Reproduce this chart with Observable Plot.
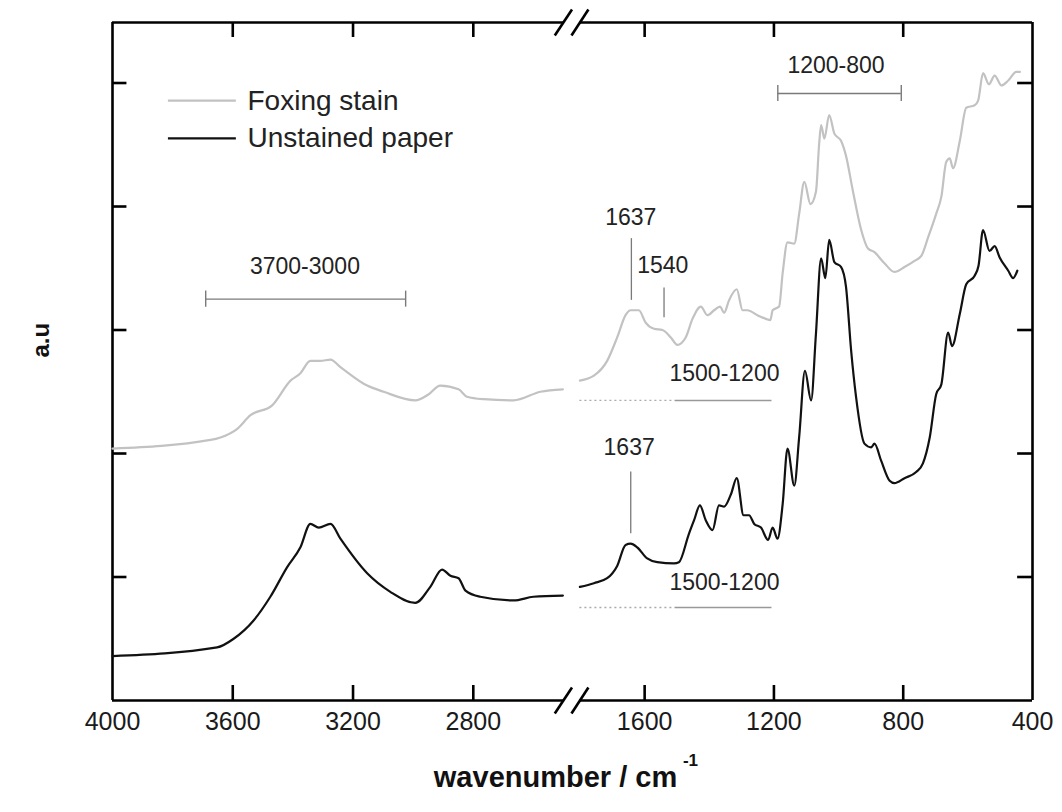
<!DOCTYPE html>
<html>
<head>
<meta charset="utf-8">
<script src="https://cdn.jsdelivr.net/npm/d3@7"></script>
<script src="https://cdn.jsdelivr.net/npm/@observablehq/plot@0.6"></script>
<style>
  html, body { margin: 0; padding: 0; background: #fff; }
</style>
</head>
<body>
<div id="chart"></div>
<script>
// ---------- data (wavenumber in cm-1, absorbance in arbitrary units) ----------
const xTicks = [4000, 3600, 3200, 2800, 1600, 1200, 800, 400];
const yTicks = [1, 2, 3, 4, 5];
const seriesNames = ["Foxing stain", "Unstained paper"];

const foxingHighWn  = [4000, 3674, 3641, 3585, 3541, 3469, 3408, 3375, 3342, 3309, 3275, 3242, 3153, 3098, 2993, 2948, 2910, 2849, 2821, 2766, 2666, 2577, 2502];
const foxingHighAbs = [2.04, 2.11, 2.13, 2.20, 2.31, 2.39, 2.59, 2.65, 2.75, 2.75, 2.76, 2.70, 2.55, 2.50, 2.43, 2.48, 2.55, 2.52, 2.46, 2.44, 2.43, 2.50, 2.52];

const paperHighWn  = [4000, 3652, 3597, 3530, 3475, 3419, 3375, 3342, 3314, 3275, 3242, 3153, 3076, 2993, 2943, 2904, 2876, 2849, 2826, 2777, 2666, 2600, 2502];
const paperHighAbs = [0.36, 0.43, 0.50, 0.65, 0.84, 1.08, 1.24, 1.43, 1.40, 1.43, 1.31, 1.03, 0.88, 0.79, 0.92, 1.06, 1.01, 0.99, 0.89, 0.84, 0.81, 0.84, 0.85];

const foxingLowWn  = [1804,1757,1716,1685,1659,1643,1618,1597,1571,1545,1519,1499,1473,1452,1426,1406,1385,1367,1354,1339,1315,1297,1282,1251,1225,1211,1204,1184,1173,1158,1137,1122,1106,1087,1070,1060,1054,1044,1029,1013,992,977,956,930,909,889,858,827,796,765,744,723,698,682,667,656,646,625,605,579,568,553,535,517,496,475,450,439];
const foxingLowAbs = [2.59,2.63,2.75,2.94,3.12,3.16,3.16,3.06,3.01,3.00,2.94,2.88,2.94,3.09,3.19,3.12,3.16,3.19,3.14,3.24,3.33,3.16,3.16,3.12,3.09,3.08,3.16,3.19,3.46,3.71,3.70,3.94,4.20,4.02,4.12,4.51,4.66,4.55,4.74,4.59,4.53,4.41,4.13,3.81,3.66,3.63,3.54,3.47,3.51,3.56,3.60,3.75,3.94,4.08,4.36,4.39,4.31,4.53,4.80,4.82,4.86,5.08,4.99,5.06,4.98,5.02,5.09,5.09];

const paperLowWn  = [1804,1757,1716,1685,1659,1643,1623,1592,1561,1509,1494,1463,1447,1429,1411,1390,1370,1354,1333,1315,1294,1277,1261,1240,1218,1204,1189,1173,1158,1137,1122,1104,1085,1070,1054,1041,1029,1013,992,977,961,946,920,899,889,868,842,827,796,760,739,718,698,682,661,649,625,605,579,567,553,533,517,502,475,460,447];
const paperLowAbs = [0.92,0.95,0.99,1.09,1.26,1.27,1.24,1.15,1.12,1.11,1.12,1.35,1.46,1.58,1.46,1.38,1.58,1.57,1.67,1.80,1.50,1.50,1.43,1.40,1.30,1.40,1.31,1.59,2.04,1.74,2.13,2.67,2.43,2.97,3.58,3.42,3.73,3.55,3.51,3.35,2.83,2.46,2.08,2.05,2.08,1.94,1.78,1.76,1.80,1.85,1.92,2.13,2.48,2.56,2.98,2.87,3.13,3.37,3.44,3.52,3.81,3.64,3.68,3.59,3.48,3.42,3.48];

// annotations
const labelTexts = ["3700-3000", "1200-800", "1637", "1540", "1500-1200", "1637", "1500-1200"];
const labelWn    = [3360, 1008, 1643, 1544, 1353, 1648, 1353];
const labelAbs   = [3.51, 5.14, 3.91, 3.52, 2.65, 2.05, 0.955];

const peakLineWn     = [1641, 1540, 1643];
const peakLineTop    = [3.74, 3.34, 1.85];
const peakLineBottom = [3.24, 3.10, 1.35];

const bracketFrom = [3690, 1188];
const bracketTo   = [3025, 806];
const bracketAbs  = [3.25, 4.915];

const baselineAbs = [2.43, 0.753];
const baselineDotted = [1804, 1505];
const baselineSolid  = [1505, 1206];

const legendAbs = [4.858, 4.551];
const legendLine = [3814, 3588];
const legendTextWn = 3551;

// axis break
const xDomain = [4000, 2500, 1800, 400];
const breakSlashes = [
  {x1: 2529, x2: 2139}, {x1: 2161, x2: 1774}
];
const yTop = 5.49;

// ---------- build rows ----------
const toRows = (wn, ab) => wn.map((w, i) => ({wn: w, ab: ab[i]}));
const foxRows = [toRows(foxingHighWn, foxingHighAbs), toRows(foxingLowWn, foxingLowAbs)];
const paperRows = [toRows(paperHighWn, paperHighAbs), toRows(paperLowWn, paperLowAbs)];

const grey = "#c2c2c2";
const annot = "#7a7a7a";
const slashRows = [];
for (const yb of [0, yTop]) for (const s of breakSlashes) slashRows.push({x1: s.x1, x2: s.x2, y1: yb - 0.105, y2: yb + 0.105});

const chart = Plot.plot({
  width: 1062,
  height: 812,
  marginLeft: 112,
  marginRight: 30,
  marginTop: 22,
  marginBottom: 112,
  style: {fontFamily: "'Liberation Sans', Arial, sans-serif", fontSize: "25px", background: "#fff", overflow: "visible"},
  x: {type: "linear", domain: xDomain, range: [112, 563, 579.5, 1032]},
  y: {domain: [0, yTop], axis: null},
  marks: [
    // frame
    Plot.ruleX([4000, 400], {y1: 0, y2: yTop, stroke: "#000", strokeWidth: 2.6}),
    Plot.ruleY([0, yTop], {x1: 4000, x2: 2500, stroke: "#000", strokeWidth: 2.6}),
    Plot.ruleY([0, yTop], {x1: 1800, x2: 400, stroke: "#000", strokeWidth: 2.6}),
    Plot.link(slashRows, {x1: "x1", x2: "x2", y1: "y1", y2: "y2", stroke: "#000", strokeWidth: 2.6}),
    // inward ticks
    Plot.ruleX(xTicks.slice(1, -1), {y1: 0, y2: 0.1215, stroke: "#000", strokeWidth: 2.6}),
    Plot.ruleX(xTicks.slice(1, -1), {y1: yTop, y2: yTop - 0.1215, stroke: "#000", strokeWidth: 2.6}),
    Plot.ruleY(yTicks, {x1: 4000, x2: 3952, stroke: "#000", strokeWidth: 2.6}),
    Plot.ruleY(yTicks, {x1: 400, x2: 446, stroke: "#000", strokeWidth: 2.6}),
    Plot.axisX({ticks: xTicks, tickSize: 0, tickPadding: 12, fontSize: 25, fill: "#1a1a1a", tickFormat: d => String(d), label: null}),
    // spectra
    ...foxRows.map(r => Plot.line(r, {x: "wn", y: "ab", stroke: grey, strokeWidth: 2.2, curve: "monotone-x"})),
    ...paperRows.map(r => Plot.line(r, {x: "wn", y: "ab", stroke: "#111", strokeWidth: 2.2, curve: "monotone-x"})),
    // annotations
    Plot.ruleY(bracketAbs, {x1: (d, i) => bracketFrom[i], x2: (d, i) => bracketTo[i], stroke: annot, strokeWidth: 1.4}),
    Plot.ruleX(bracketFrom, {y1: (d, i) => bracketAbs[i] - 0.065, y2: (d, i) => bracketAbs[i] + 0.065, stroke: annot, strokeWidth: 1.4}),
    Plot.ruleX(bracketTo, {y1: (d, i) => bracketAbs[i] - 0.065, y2: (d, i) => bracketAbs[i] + 0.065, stroke: annot, strokeWidth: 1.4}),
    Plot.ruleX(peakLineWn, {y1: (d, i) => peakLineBottom[i], y2: (d, i) => peakLineTop[i], stroke: annot, strokeWidth: 1.3}),
    Plot.ruleY(baselineAbs, {x1: baselineDotted[0], x2: baselineDotted[1], stroke: "#aaa", strokeWidth: 1.3, strokeDasharray: "2,3"}),
    Plot.ruleY(baselineAbs, {x1: baselineSolid[0], x2: baselineSolid[1], stroke: "#999", strokeWidth: 1.5}),
    Plot.text(labelTexts, {x: (d, i) => labelWn[i], y: (d, i) => labelAbs[i], fontSize: 23, fill: "#222", lineAnchor: "middle"}),
    // legend
    Plot.ruleY(legendAbs, {x1: legendLine[0], x2: legendLine[1], stroke: (d, i) => i === 0 ? grey : "#111", strokeWidth: 2.2}),
    Plot.text(seriesNames, {x: legendTextWn, y: (d, i) => legendAbs[i], textAnchor: "start", fontSize: 28, fill: "#222", lineAnchor: "middle"}),
    // axis titles
    Plot.text(["wavenumber / cm"], {frameAnchor: "bottom", dx: -17, dy: 77, lineAnchor: "middle", fontSize: 29, fontWeight: "bold", fill: "#111"}),
    Plot.text(["-1"], {frameAnchor: "bottom", dx: 118, dy: 60, lineAnchor: "middle", fontSize: 17, fontWeight: "bold", fill: "#111"}),
    Plot.text(["a.u"], {frameAnchor: "left", dx: -71, dy: -4, rotate: -90, lineAnchor: "middle", fontSize: 24, fontWeight: "bold", fill: "#111"})
  ]
});
document.getElementById("chart").appendChild(chart);
</script>
</body>
</html>
